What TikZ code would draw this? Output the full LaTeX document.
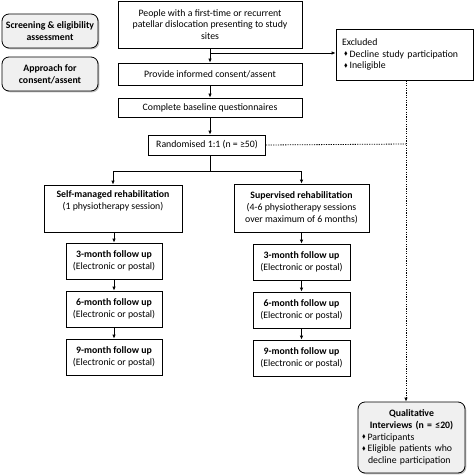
\documentclass[tikz,border=0pt]{standalone}
\usepackage{fontspec}
\usepackage{amssymb}
\setmainfont{Carlito}
\usetikzlibrary{arrows.meta,shadows}
\newcommand{\bul}{\hspace*{2pt}\raisebox{0.3ex}{\scalebox{0.55}{$\blacklozenge$}}\hspace{2pt}}
\begin{document}
\begin{tikzpicture}[x=1pt,y=-1pt,
  every node/.style={font=\fontsize{9.8}{11.8}\selectfont, inner sep=1pt},
  box/.style={draw, line width=0.8pt, fill=white, align=center},
  rbox/.style={draw, line width=0.8pt, rounded corners=7pt, fill=gray!12, align=center, drop shadow={shadow xshift=1.3pt, shadow yshift=-1.3pt, opacity=0.5}},
  arr/.style={line width=0.8pt, -{Latex[length=4pt,width=3.5pt]}},
  dots/.style={line width=0.8pt, dash pattern=on 1.2pt off 1.2pt}]
\useasboundingbox (0,0) rectangle (474,476);
\node[rbox, minimum width=96pt, minimum height=34pt] (screen) at (50,31) {\textbf{Screening \& eligibility}\\\textbf{assessment}};
\node[rbox, minimum width=96pt, minimum height=34pt] (approach) at (50,74) {\textbf{Approach for}\\\textbf{consent/assent}};
\node[box, minimum width=184pt, minimum height=47pt] (top) at (210,24.5) {People with a first-time or recurrent\\patellar dislocation presenting to study\\sites};
\node[box, minimum width=184pt, minimum height=22pt] (consent) at (210,74) {Provide informed consent/assent};
\node[box, minimum width=184pt, minimum height=19pt] (base) at (210,107.5) {Complete baseline questionnaires};
\node[box, minimum width=117pt, minimum height=20pt] (rand) at (207,145) {Randomised 1:1 (n = ≥50)};
\node[box, minimum width=138pt, minimum height=47pt] (self) at (113,208.5) {\textbf{Self-managed rehabilitation}\\(1 physiotherapy session)\\[5pt]};
\node[box, minimum width=135pt, minimum height=48pt] (sup) at (301.5,208) {\textbf{Supervised rehabilitation}\\(4-6 physiotherapy sessions\\over maximum of 6 months)};
\node[box, minimum width=96pt, minimum height=36pt] (l3) at (114,261) {\textbf{3-month follow up}\\(Electronic or postal)};
\node[box, minimum width=96pt, minimum height=36pt] (l6) at (114,309) {\textbf{6-month follow up}\\(Electronic or postal)};
\node[box, minimum width=96pt, minimum height=36pt] (l9) at (114,357) {\textbf{9-month follow up}\\(Electronic or postal)};
\node[box, minimum width=97pt, minimum height=36pt] (r3) at (301.5,262) {\textbf{3-month follow up}\\(Electronic or postal)};
\node[box, minimum width=97pt, minimum height=36pt] (r6) at (301.5,310) {\textbf{6-month follow up}\\(Electronic or postal)};
\node[box, minimum width=97pt, minimum height=36pt] (r9) at (301.5,358) {\textbf{9-month follow up}\\(Electronic or postal)};
\node[box, minimum width=137pt, minimum height=51pt, align=left, text width=125pt] (excl) at (404.5,54.5) {Excluded\\\bul Decline study participation\\\bul Ineligible};
\node[rbox, minimum width=107pt, minimum height=71pt, align=left, text width=103pt] (qual) at (411.5,437.5) {\centering\textbf{Qualitative}\\\textbf{Interviews (n = ≤20)}\par\raggedright\bul Participants\\\bul Eligible patients who\\\hspace*{8pt}decline participation};
% connectors
\coordinate (branch) at (210,53);
\draw[arr] (top.south) -- (consent.north);
\draw[arr] (branch) -- (branch -| excl.west);
\draw[arr] (consent.south) -- (base.north);
\draw[arr] (base.south) -- (rand.north -| base.south);
\coordinate (split) at (210,171);
\draw[line width=0.8pt] (rand.south -| split) -- (split);
\draw[arr] (split) -| (self.north);
\draw[arr] (split) -| (sup.north);
\draw[arr] (self.south -| l3.north) -- (l3.north);
\draw[arr] (l3) -- (l6);
\draw[arr] (l6) -- (l9);
\draw[arr] (sup.south) -- (r3.north);
\draw[arr] (r3) -- (r6);
\draw[arr] (r6) -- (r9);
\coordinate (dv) at (406,144);
\draw[dots] (rand.east) -- (dv);
\draw[dots, -{Latex[length=4pt,width=3.5pt]}] (excl.south -| dv) -- (qual.north -| dv);
\end{tikzpicture}
\end{document}
